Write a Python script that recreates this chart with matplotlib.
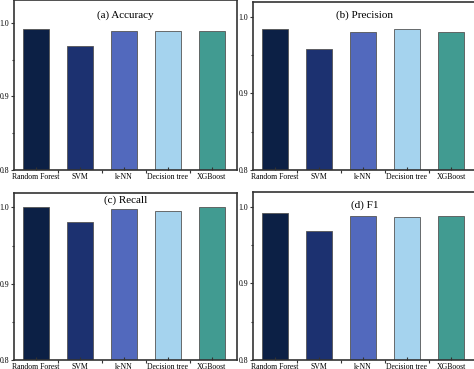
import matplotlib
matplotlib.use("Agg")
import matplotlib.pyplot as plt
import numpy as np
from matplotlib.ticker import MultipleLocator, FixedLocator

models = ["Random Forest", "SVM", "k-NN", "Decision tree", "XGBoost"]
accuracy = [0.991, 0.969, 0.989, 0.989, 0.989]
precision = [0.9835, 0.958, 0.9795, 0.984, 0.980]
recall = [1.000, 0.981, 0.998, 0.995, 1.000]
f1 = [0.991, 0.968, 0.988, 0.9866, 0.9883]
titles = ["(a) Accuracy", "(b) Precision", "(c) Recall", "(d) F1"]
colors = ["#0c2045", "#1c3170", "#5269bd", "#a5d3ee", "#419b91"]

plt.rcParams['font.family'] = ['Liberation Serif', 'DejaVu Serif']

fig = plt.figure(figsize=(4.74, 3.69), dpi=100)

# [left, bottom, width, height], ylim top, title y (axes fraction)
panels = [
    ([0.0295, 0.539, 0.4705, 0.461], 1.031, 0.91),
    ([0.5338, 0.539, 0.4705, 0.4553], 1.019, 0.925),
    ([0.0295, 0.0244, 0.4705, 0.4526], 1.019, 0.955),
    ([0.5338, 0.0244, 0.4705, 0.4553], 1.019, 0.92),
]
data = [accuracy, precision, recall, f1]

x = np.arange(len(models))
for (rect, ytop, ty), vals, title in zip(panels, data, titles):
    ax = fig.add_axes(rect)
    ax.bar(x, vals, width=0.6, color=colors, edgecolor="#555555", linewidth=0.6)
    ax.set_xlim(-0.5, 4.57)
    ax.set_ylim(0.8, ytop)
    ax.set_xticks(x)
    ax.set_xticklabels(models, fontsize=5.6)
    ax.xaxis.set_minor_locator(FixedLocator(x[:-1] + 0.5))
    ax.yaxis.set_major_locator(MultipleLocator(0.1))
    ax.yaxis.set_minor_locator(MultipleLocator(0.05))
    ax.tick_params(axis='x', which='major', direction='in', length=2.5, width=0.8, pad=2, color="#333333")
    ax.tick_params(axis='x', which='minor', direction='out', length=2, width=0.8, color="#333333")
    ax.tick_params(axis='y', which='major', direction='out', length=2.5, width=0.8, labelsize=5.6, pad=1, color="#333333")
    ax.tick_params(axis='y', which='minor', direction='out', length=1.8, width=0.8, color="#333333")
    for s in ax.spines.values():
        s.set_linewidth(1.2)
        s.set_color("#333333")
    ax.text(0.5, ty, title, transform=ax.transAxes, ha='center', va='center', fontsize=8)

fig.savefig("out.png", dpi=100)
